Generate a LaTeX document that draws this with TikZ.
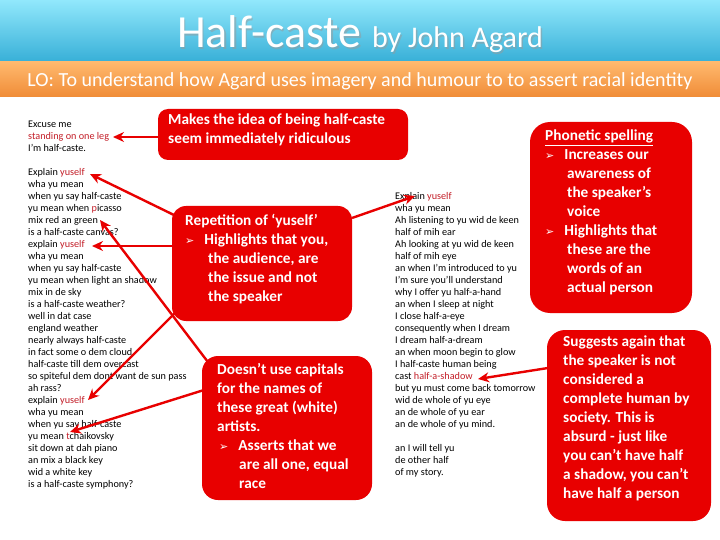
\documentclass[tikz,border=0pt]{standalone}
\usepackage{fontspec}
\setmainfont{Carlito}
\newfontfamily\dv{DejaVu Sans}
\usetikzlibrary{arrows.meta}
\definecolor{boxred}{RGB}{232,0,0}
\definecolor{poemred}{RGB}{195,30,40}
\definecolor{bluetop}{RGB}{145,232,252}
\definecolor{bluebot}{RGB}{55,175,215}
\definecolor{ortop}{RGB}{255,185,110}
\definecolor{orbot}{RGB}{240,140,55}
\newcommand{\rw}[1]{\textcolor{poemred}{#1}}
\newcommand{\bul}{{\dv\fontsize{11}{11}\selectfont ➢}}
\tikzset{
  redbox/.style={text=white, align=left, anchor=north west, inner sep=0pt, font=\bfseries\fontsize{15.3}{19}\selectfont},
  poem/.style={anchor=north west, inner sep=0pt, align=left, font=\fontsize{10.2}{12}\selectfont},
  arr/.style={draw=boxred, line width=2.4pt, -{Stealth[length=11pt,width=10pt]}}
}
\begin{document}
\begin{tikzpicture}[x=1pt,y=-1pt]
\useasboundingbox (0,0) rectangle (720,540);
\fill[white] (0,0) rectangle (720,540);
\shade[top color=bluetop, bottom color=bluebot] (0,0) rectangle (720,62);
\shade[top color=ortop, bottom color=orbot] (0,62) rectangle (720,97);
\node[text=black!40, opacity=0.5, anchor=base, font=\fontsize{46}{46}\selectfont] (titles) at (361.5,49.5) {Half-caste {\fontsize{30}{30}\selectfont by John Agard}};
\node[text=white, anchor=base, font=\fontsize{46}{46}\selectfont] (title) at (360,48) {Half-caste {\fontsize{30}{30}\selectfont by John Agard}};
\node[text=white, anchor=base, font=\fontsize{20}{20}\selectfont] (lo) at (360,87) {LO: To understand how Agard uses imagery and humour to to assert racial identity};

% poems
\node[poem] (p1) at (28,121) {Excuse me\\ \rw{standing on one leg}\\ I'm half-caste.};
\node[poem] (p2) at (28,168) {Explain \rw{yuself}\\ wha yu mean\\ when yu say half-caste\\ yu mean when \rw{p}icasso\\ mix red an green\\ is a half-caste canvas?\\ explain \rw{yuself}\\ wha yu mean\\ when yu say half-caste\\ yu mean when light an shadow\\ mix in de sky\\ is a half-caste weather?\\ well in dat case\\ england weather\\ nearly always half-caste\\ in fact some o dem cloud\\ half-caste till dem overcast\\ so spiteful dem dont want de sun pass\\ ah rass?\\ explain \rw{yuself}\\ wha yu mean\\ when yu say half-caste\\ yu mean \rw{t}chaikovsky\\ sit down at dah piano\\ an mix a black key\\ wid a white key\\ is a half-caste symphony?};
\node[poem] (p3) at (395,192) {Explain \rw{yuself}\\ wha yu mean\\ Ah listening to yu wid de keen\\ half of mih ear\\ Ah looking at yu wid de keen\\ half of mih eye\\ an when I'm introduced to yu\\ I'm sure you'll understand\\ why I offer yu half-a-hand\\ an when I sleep at night\\ I close half-a-eye\\ consequently when I dream\\ I dream half-a-dream\\ an when moon begin to glow\\ I half-caste human being\\ cast \rw{half-a-shadow}\\ but yu must come back tomorrow\\ wid de whole of yu eye\\ an de whole of yu ear\\ an de whole of yu mind.\\[12pt] an I will tell yu\\ de other half\\ of my story.};

% boxes
\fill[boxred, rounded corners=10pt] (158,109) rectangle (408,160);
\node[redbox] (b1) at (168,114) {Makes the idea of being half-caste\\ seem immediately ridiculous};
\fill[boxred, rounded corners=14pt] (172,206) rectangle (352,321);
\node[redbox] (b2) at (185,214) {Repetition of ‘yuself’\\ \bul\hspace{10pt}Highlights that you,\\ \hspace{23pt}the audience, are\\ \hspace{23pt}the issue and not\\ \hspace{23pt}the speaker};
\fill[boxred, rounded corners=16pt] (202,356) rectangle (372,500);
\node[redbox] (b3) at (217,363) {Doesn’t use capitals\\ for the names of\\ these great (white)\\ artists.\\ \hspace{2pt}\bul\hspace{10pt}Asserts that we\\ \hspace{22pt}are all one, equal\\ \hspace{22pt}race};
\fill[boxred, rounded corners=20pt] (530,122) rectangle (692,313);
\node[redbox] (b4) at (545,130) {\underline{Phonetic spelling}\\ \bul\hspace{10pt}Increases our\\ \hspace{22pt}awareness of\\ \hspace{22pt}the speaker’s\\ \hspace{22pt}voice\\ \bul\hspace{10pt}Highlights that\\ \hspace{22pt}these are the\\ \hspace{22pt}words of an\\ \hspace{22pt}actual person};
\fill[boxred, rounded corners=18pt] (547,330) rectangle (711,521);
\node[redbox] (b5) at (563,336) {Suggests again that\\ the speaker is not\\ considered a\\ complete human by\\ society. This is\\ absurd - just like\\ you can’t have half\\ a shadow, you can’t\\ have half a person};

% arrow targets
\coordinate (t1) at (113,137);
\coordinate (t2) at (90,174);
\coordinate (t3) at (92,246);
\coordinate (t4) at (415,196);
\coordinate (t5) at (88,400);
\coordinate (t6) at (100,220);
\coordinate (t7) at (70,432);
\coordinate (t8) at (478,379);
\coordinate (s1) at (158,137);
\coordinate (s2) at (176,216);
\coordinate (s3) at (172,246);
\coordinate (s4) at (352,218);
\coordinate (s5) at (178,310);
\coordinate (s6) at (214,370);
\coordinate (s7) at (204,390);
\coordinate (s8) at (548,368);
\foreach \i in {1,...,8} \draw[arr] (s\i) -- (t\i);
\end{tikzpicture}
\end{document}
